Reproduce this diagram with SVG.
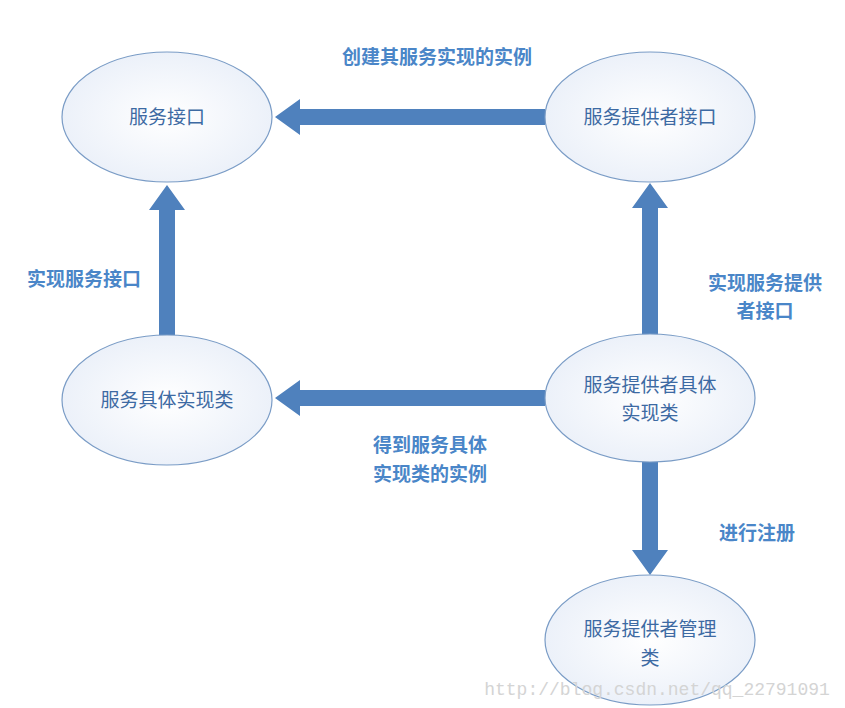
<svg xmlns="http://www.w3.org/2000/svg" width="845" height="708" viewBox="0 0 845 708">
<defs>
<radialGradient id="g" cx="50%" cy="50%" r="60%"><stop offset="0" stop-color="#ffffff"/><stop offset="1" stop-color="#e8eef8"/></radialGradient>
<style>
.n{fill:url(#g);stroke:#7a9cc6;stroke-width:1.2}
.t{font-family:"Liberation Sans","Noto Sans CJK SC",sans-serif;font-size:19px;fill:#3d6aa3;text-anchor:middle}
.l{font-family:"Liberation Sans","Noto Sans CJK SC",sans-serif;font-size:19px;font-weight:bold;fill:#4a86c8;text-anchor:middle}
.a{fill:#4f81bd}
</style>
</defs>
<rect width="845" height="708" fill="#fff"/>
<g id="connectors">
<polygon class="a" points="545,109 300,109 300,99 275,117 300,135 300,125 545,125"/>
<polygon class="a" points="159,335 159,210 149,210 167,185 185,210 175,210 175,335"/>
<polygon class="a" points="642,335 642,208 632,208 650,183 668,208 658,208 658,335"/>
<polygon class="a" points="545,390 300,390 300,380 275,398 300,416 300,406 545,406"/>
<polygon class="a" points="642,462 642,550 632,550 650,575 668,550 658,550 658,462"/>
<text class="l" x="437" y="64">创建其服务实现的实例</text>
<text class="l" x="84" y="286">实现服务接口</text>
<text class="l" x="765" y="290">实现服务提供</text>
<text class="l" x="765" y="318">者接口</text>
<text class="l" x="430" y="452">得到服务具体</text>
<text class="l" x="430" y="481">实现类的实例</text>
<text class="l" x="757" y="540">进行注册</text>
</g>
<g id="n1"><ellipse class="n" cx="167" cy="117" rx="105" ry="65"/><text class="t" x="167" y="124">服务接口</text></g>
<g id="n2"><ellipse class="n" cx="650" cy="117" rx="105" ry="65"/><text class="t" x="650" y="124">服务提供者接口</text></g>
<g id="n3"><ellipse class="n" cx="167" cy="400" rx="105" ry="65"/><text class="t" x="167" y="407">服务具体实现类</text></g>
<g id="n4"><ellipse class="n" cx="650" cy="398" rx="105" ry="64"/><text class="t" x="650" y="392">服务提供者具体</text><text class="t" x="650" y="420">实现类</text></g>
<g id="n5"><ellipse class="n" cx="650" cy="640" rx="105" ry="65"/><text class="t" x="650" y="636">服务提供者管理</text><text class="t" x="650" y="665">类</text></g>
<text x="657" y="695" font-family="Liberation Mono,monospace" font-size="18" fill="#d4d4d4" text-anchor="middle">http://blog.csdn.net/qq_22791091</text>
</svg>
